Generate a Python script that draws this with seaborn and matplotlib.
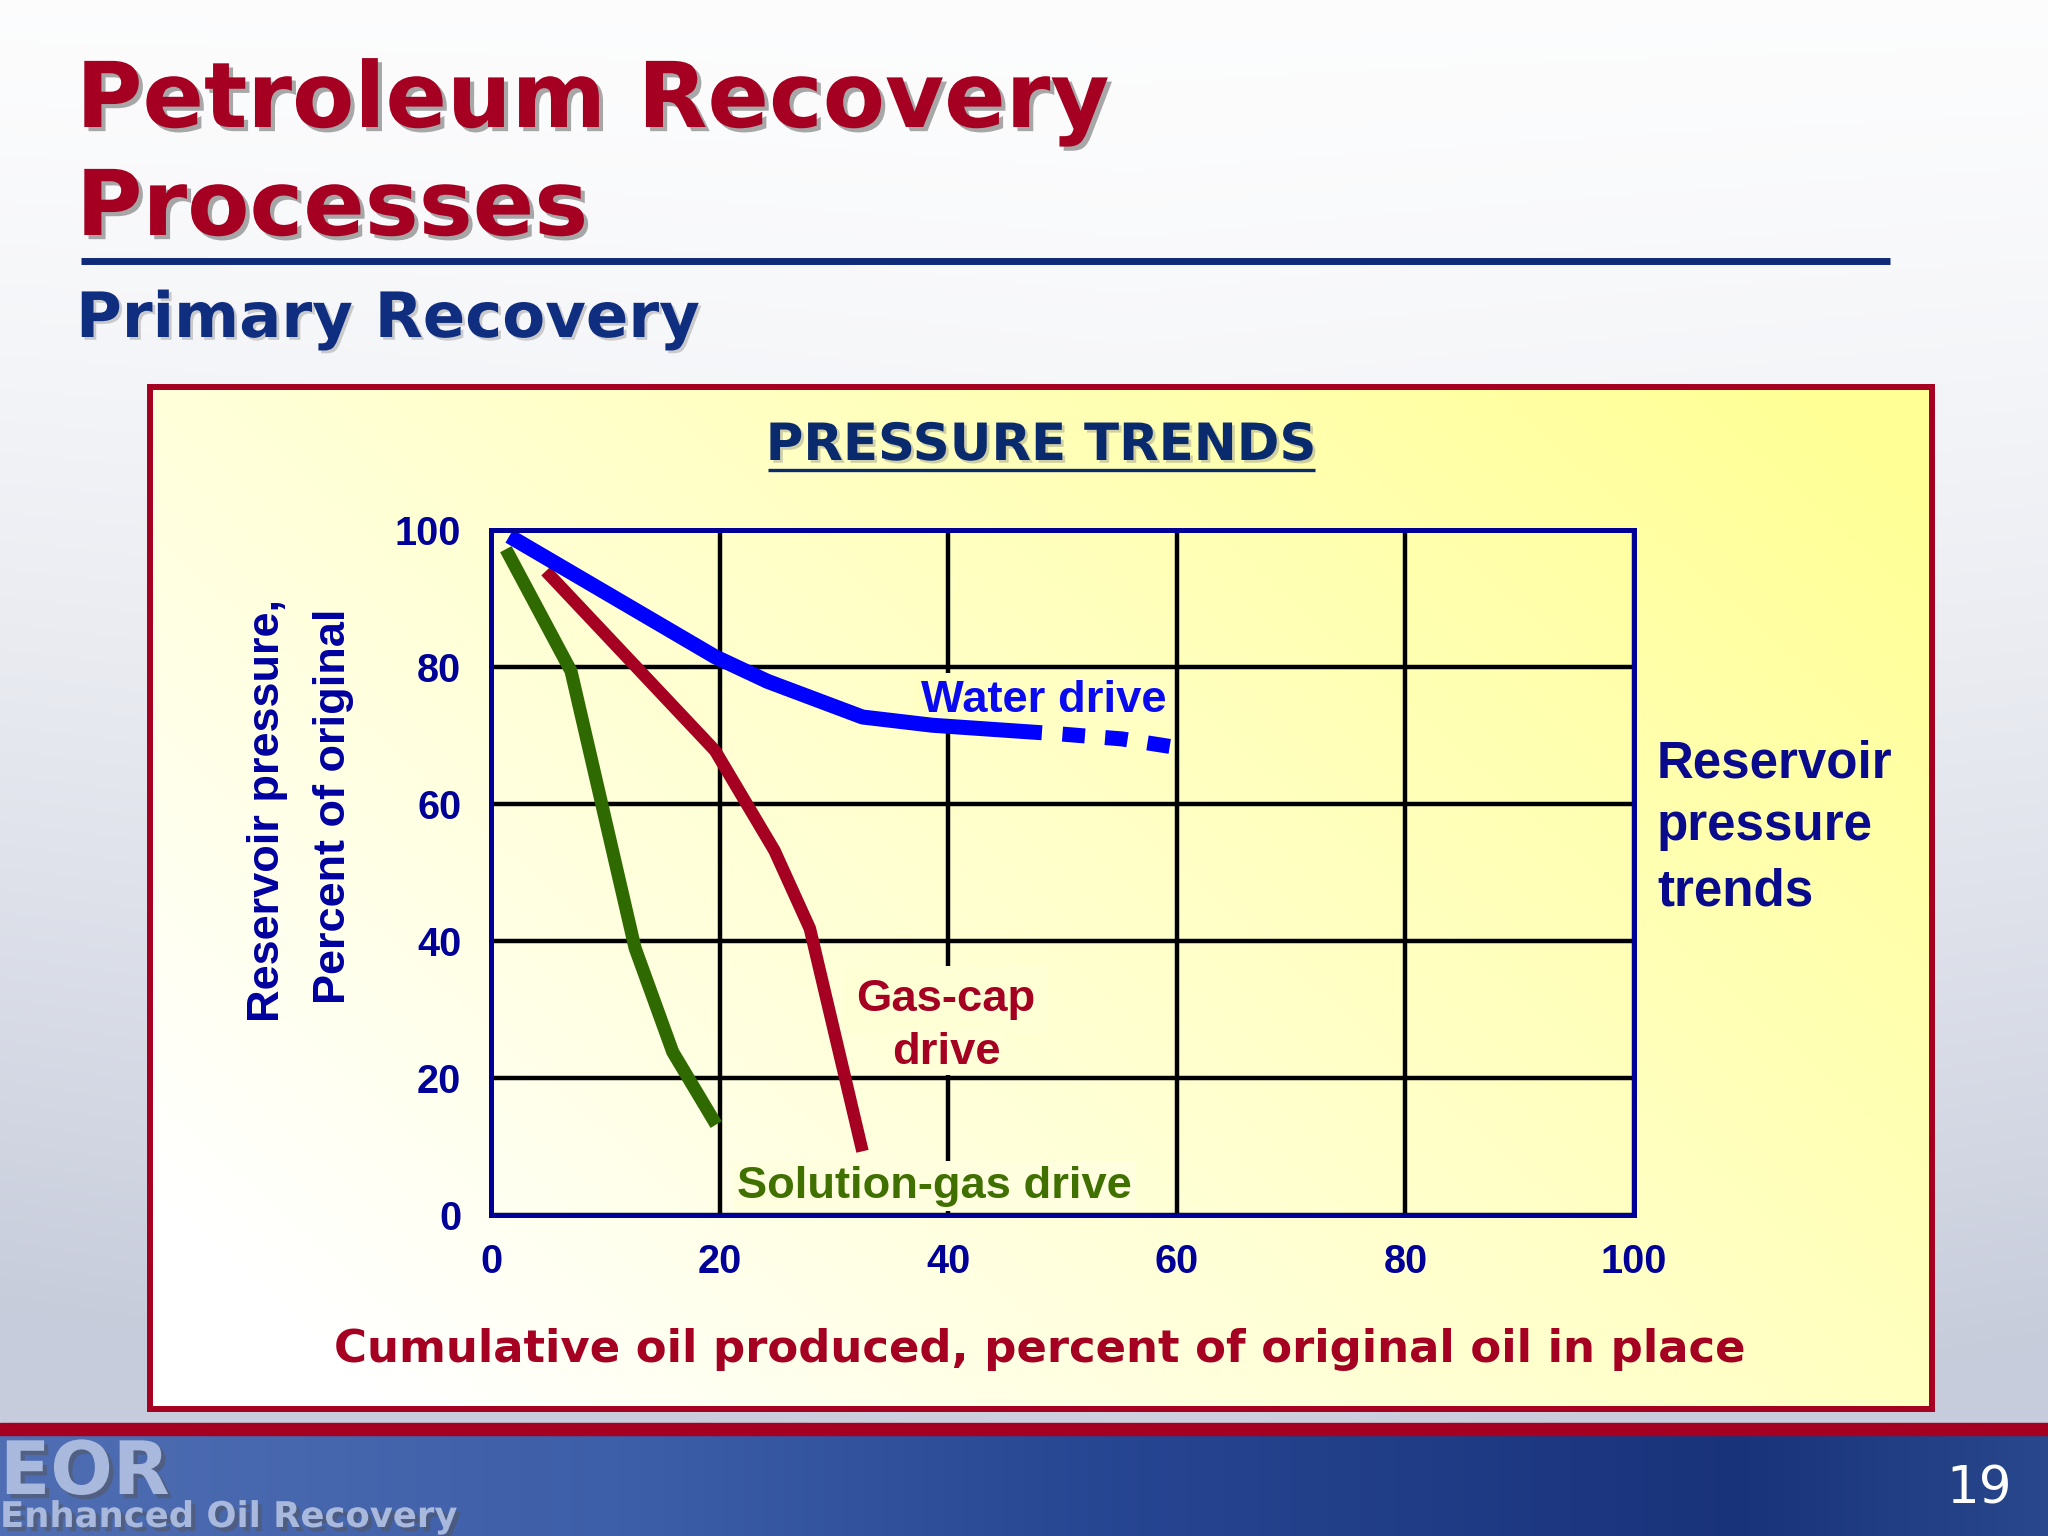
import numpy as np
import matplotlib
matplotlib.use('Agg')
import matplotlib.pyplot as plt
import matplotlib.patheffects as pe
from matplotlib.patches import Rectangle
import seaborn as sns

# values (percent of OOIP vs percent of original pressure)
water_x = [1.6, 19.6, 24.2, 32.5, 38.6, 48.2]
water_y = [99.1, 81.5, 77.9, 72.7, 71.5, 70.4]
water_ext_x = [50.0, 55.2, 59.8]
water_ext_y = [70.2, 69.5, 68.3]
gascap_x = [4.8, 19.6, 24.8, 27.9, 32.5]
gascap_y = [94.0, 67.8, 53.2, 41.8, 9.3]
solgas_x = [1.3, 7.0, 12.6, 15.9, 19.7]
solgas_y = [97.2, 79.4, 39.0, 23.8, 13.2]
ticks = [0, 20, 40, 60, 80, 100]

RED = '#A50021'
NAVY = '#000099'
VERDANA = ['DejaVu Sans']

sns.set_style('white')
plt.rcParams['font.family'] = ['Liberation Sans', 'DejaVu Sans']

W, H = 2048, 1536
fig = plt.figure(figsize=(20.48, 15.36), dpi=100)

# slide background, drawn in pixel coordinates (y down)
bg = fig.add_axes([0, 0, 1, 1])
bg.set_xlim(0, W)
bg.set_ylim(H, 0)
bg.axis('off')

yy, xx = np.mgrid[0:H:4, 0:W:4]
edge = np.clip(np.abs(xx / W - 0.55) * 1.6, 0, 1)
f = np.clip(0.05 + 0.85 * (yy / 1420) ** 1.6 + 0.25 * edge * (yy / 1420), 0, 1)
base = np.array([1.0, 1.0, 1.0])
dark = np.array([0.78, 0.80, 0.86])
img = base[None, None, :] * (1 - f[..., None]) + dark[None, None, :] * f[..., None]
bg.imshow(img, extent=[0, W, H, 0], aspect='auto', zorder=0)

# panel with yellow gradient
px0, py0, px1, py1 = 150, 387, 1932, 1409


def panel_color(x, y):
    u = (x - px0) / (px1 - px0)
    v = (py1 - y) / (py1 - py0)
    t = np.clip(0.7 * u + 0.45 * v - 0.1, 0, 1)
    b = 1.0 - t * (1.0 - 150 / 255)
    return (1.0, 1.0, b)


pv, pu = np.mgrid[py0:py1:3, px0:px1:3]
blue_ch = np.asarray(panel_color(pu, pv)[2], dtype=float)
pimg = np.dstack([np.ones_like(blue_ch), np.ones_like(blue_ch), blue_ch])
bg.imshow(pimg, extent=[px0, px1, py1, py0], aspect='auto', zorder=1)
bg.add_patch(Rectangle((px0, py0), px1 - px0, py1 - py0, fill=False,
                       edgecolor=RED, linewidth=4.3, zorder=2))

# footer
fx = np.linspace(0, 1, 512)
anch = [0, 0.3, 0.55, 0.85, 1]
cols = np.array([[0.31, 0.43, 0.70], [0.24, 0.37, 0.66], [0.15, 0.27, 0.57],
                 [0.10, 0.20, 0.48], [0.16, 0.28, 0.55]])
frow = np.stack([np.interp(fx, anch, cols[:, i]) for i in range(3)], axis=-1)
fimg = np.repeat(frow[None, :, :], 8, axis=0)
bg.imshow(fimg, extent=[0, W, H, 1435], aspect='auto', zorder=1)
bg.add_patch(Rectangle((0, 1423), W, 12, color=RED, zorder=2))

shadow = [pe.SimplePatchShadow(offset=(3, -3), shadow_rgbFace='#555555', alpha=0.5), pe.Normal()]
light_shadow = [pe.SimplePatchShadow(offset=(2, -2), shadow_rgbFace='#888888', alpha=0.4), pe.Normal()]

bg.text(0, 1494, 'EOR', fontsize=53, family=VERDANA, weight='bold', color='#A9B9DD',
        va='baseline', ha='left', zorder=3, path_effects=shadow)
bg.text(0, 1527, 'Enhanced Oil Recovery', fontsize=25.5, family=VERDANA, weight='bold',
        color='#A9B9DD', va='baseline', ha='left', zorder=3, path_effects=shadow)
bg.text(1979, 1503, '19', fontsize=37, family=VERDANA, color='white',
        va='baseline', ha='center', zorder=3)

# slide titles
bg.text(76, 127, 'Petroleum Recovery', fontsize=65.3, family=VERDANA, weight='bold',
        color=RED, va='baseline', zorder=3, path_effects=shadow)
bg.text(76, 235, 'Processes', fontsize=65.3, family=VERDANA, weight='bold',
        color=RED, va='baseline', zorder=3, path_effects=shadow)
bg.plot([81, 1890], [261, 261], color='#0E2A78', linewidth=5, solid_capstyle='butt', zorder=3)
bg.text(76, 337, 'Primary Recovery', fontsize=45, family=VERDANA, weight='bold',
        color='#102E80', va='baseline', zorder=3, path_effects=light_shadow)

bg.text(1041, 460, 'PRESSURE TRENDS', fontsize=37, family=VERDANA, weight='bold',
        color='#0A2A6E', va='baseline', ha='center', zorder=3, path_effects=light_shadow)
bg.plot([768, 1315], [470, 470], color='#0A2A6E', linewidth=2.4, solid_capstyle='butt', zorder=3)

bg.text(268, 810, 'Reservoir pressure,', fontsize=32.5, weight='bold', color='#0000A0',
        rotation=90, ha='center', va='center', zorder=3)
bg.text(333, 806, 'Percent of original', fontsize=32.5, weight='bold', color='#0000A0',
        rotation=90, ha='center', va='center', zorder=3)

bg.text(1040, 1362, 'Cumulative oil produced, percent of original oil in place',
        fontsize=32.4, family=VERDANA, weight='bold', color=RED, va='baseline',
        ha='center', zorder=3)

for txt, yb in zip(['Reservoir', 'pressure', 'trends'], [778, 840, 905]):
    bg.text(1657, yb, txt, fontsize=36.8, weight='bold', color='#0A0A8C',
            va='baseline', ha='left', zorder=3)

# the chart itself
ax = fig.add_axes([491 / W, 1 - 1215 / H, (1634 - 491) / W, (1215 - 530) / H])
ax.set_facecolor('none')
ax.set_axisbelow(True)
ax.grid(True, color='black', linewidth=3.2)

sns.lineplot(x=solgas_x, y=solgas_y, ax=ax, color='#2F6A00', linewidth=9.4,
             sort=False, estimator=None, solid_capstyle='butt', zorder=3)
sns.lineplot(x=gascap_x, y=gascap_y, ax=ax, color='#A50021', linewidth=9.0,
             sort=False, estimator=None, solid_capstyle='butt', zorder=3)
sns.lineplot(x=water_x, y=water_y, ax=ax, color='#0000FF', linewidth=10.8,
             sort=False, estimator=None, solid_capstyle='butt', zorder=3.2)
sns.lineplot(x=water_ext_x, y=water_ext_y, ax=ax, color='#0000FF', linewidth=10.8,
             sort=False, estimator=None, dash_capstyle='butt', zorder=3.2)
ax.lines[-1].set_linestyle((0, (1.5, 1.35)))

ax.set_xlim(0, 100)
ax.set_ylim(0, 100)
ax.set_xticks(ticks)
ax.set_yticks(ticks)
ax.set_xlabel('')
ax.set_ylabel('')
ax.tick_params(length=0, labelsize=28.5, labelcolor=NAVY)
ax.tick_params(axis='x', pad=20)
ax.tick_params(axis='y', pad=21.5)
for lab in ax.get_xticklabels() + ax.get_yticklabels():
    lab.set_fontweight('bold')
for sp in ax.spines.values():
    sp.set_color(NAVY)
    sp.set_linewidth(3.6)
    sp.set_zorder(4)


def label_box(x, y, pad=0.15):
    # text box filled like the panel behind it, hiding grid lines
    xp = 491 + x * (1634 - 491) / 100
    yp = 1215 - y * (1215 - 530) / 100
    return dict(boxstyle='square,pad=%g' % pad, facecolor=panel_color(xp, yp),
                edgecolor='none')


ax.text(37.6, 73.4, 'Water drive', fontsize=32.7, weight='bold', color='#0A0AF0',
        va='baseline', ha='left', zorder=2, bbox=label_box(48, 75))
ax.text(39.8, 29.8, 'Gas-cap', fontsize=32.7, weight='bold', color=RED,
        va='baseline', ha='center', zorder=2, bbox=label_box(40, 32, 0.28))
ax.text(39.8, 22.0, 'drive', fontsize=32.7, weight='bold', color=RED,
        va='baseline', ha='center', zorder=2, bbox=label_box(40, 24, 0.04))
ax.text(38.8, 2.5, 'Solution-gas drive', fontsize=32.6, weight='bold', color='#3F7000',
        va='baseline', ha='center', zorder=2, bbox=label_box(39, 4, 0.1))

fig.savefig('out.png', dpi=100)
